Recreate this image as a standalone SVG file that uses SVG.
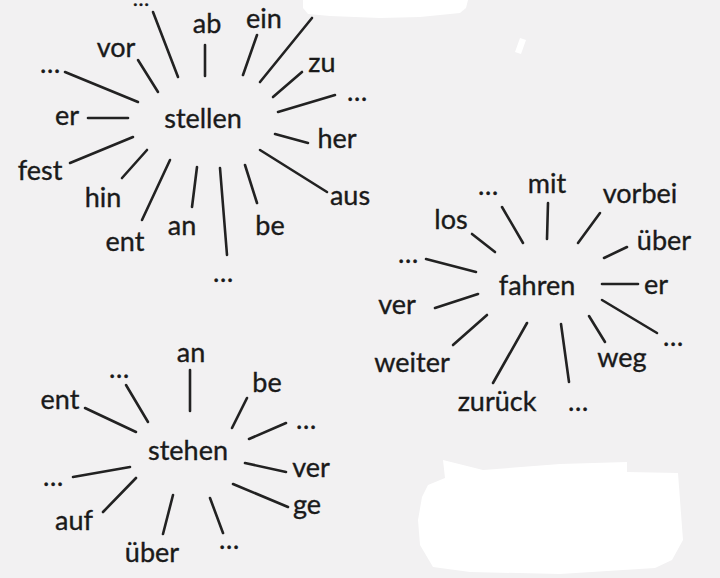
<svg xmlns="http://www.w3.org/2000/svg" width="720" height="578" viewBox="0 0 720 578">
<style>
.t{font-family:Lato,"Open Sans","Liberation Sans",sans-serif;font-size:27px;fill:#1a1a1a;stroke:#1a1a1a;stroke-width:0.35;text-anchor:middle}
.l line{stroke:#222;stroke-width:2.6;stroke-linecap:round}
.blob{fill:#ffffff}
</style>
<rect width="720" height="578" fill="#f2f1f2"/>
<path class="blob" d="M303 0 L468 0 L466 8 L460 13 L420 17 L380 18 L330 16 L308 14 L303 8 Z"/>
<path class="blob" d="M520 38 L526 40 L521 54 L515 52 Z"/>
<path class="blob" d="M443 460 L483 470 L560 464 L627 462 L627 472 L678 473 L680 500 L683 540 L672 560 L655 568 L560 574 L470 572 L433 567 L420 545 L418 520 L422 497 L428 485 L445 478 Z"/>
<g class="l" id="connectors">
<line x1="153" y1="12" x2="178" y2="77"/>
<line x1="205" y1="45" x2="205" y2="76"/>
<line x1="257" y1="35" x2="243" y2="75"/>
<line x1="312" y1="18" x2="260" y2="82"/>
<line x1="302" y1="72" x2="273" y2="97"/>
<line x1="335" y1="95" x2="278" y2="112"/>
<line x1="88" y1="118" x2="128" y2="118"/>
<line x1="65" y1="72" x2="138" y2="102"/>
<line x1="138" y1="60" x2="158" y2="92"/>
<line x1="275" y1="134" x2="308" y2="143"/>
<line x1="260" y1="150" x2="327" y2="192"/>
<line x1="70" y1="163" x2="133" y2="137"/>
<line x1="122" y1="178" x2="147" y2="150"/>
<line x1="142" y1="220" x2="170" y2="160"/>
<line x1="192" y1="207" x2="197" y2="167"/>
<line x1="220" y1="168" x2="227" y2="255"/>
<line x1="245" y1="165" x2="257" y2="203"/>
<line x1="502" y1="207" x2="523" y2="243"/>
<line x1="548" y1="203" x2="547" y2="239"/>
<line x1="600" y1="213" x2="578" y2="243"/>
<line x1="627" y1="247" x2="604" y2="258"/>
<line x1="472" y1="234" x2="495" y2="252"/>
<line x1="426" y1="259" x2="476" y2="272"/>
<line x1="602" y1="284" x2="638" y2="284"/>
<line x1="435" y1="308" x2="478" y2="294"/>
<line x1="453" y1="345" x2="487" y2="315"/>
<line x1="493" y1="383" x2="527" y2="323"/>
<line x1="561" y1="324" x2="569" y2="382"/>
<line x1="589" y1="316" x2="605" y2="342"/>
<line x1="602" y1="300" x2="657" y2="333"/>
<line x1="190" y1="370" x2="190" y2="411"/>
<line x1="126" y1="385" x2="148" y2="422"/>
<line x1="85" y1="408" x2="136" y2="432"/>
<line x1="247" y1="398" x2="232" y2="428"/>
<line x1="286" y1="423" x2="249" y2="439"/>
<line x1="245" y1="463" x2="286" y2="472"/>
<line x1="233" y1="484" x2="288" y2="507"/>
<line x1="73" y1="477" x2="130" y2="467"/>
<line x1="103" y1="512" x2="136" y2="478"/>
<line x1="163" y1="534" x2="173" y2="495"/>
<line x1="210" y1="498" x2="223" y2="533"/>
</g>
<g id="stellen" class="t">
<text x="203" y="128">stellen</text>
<text x="141" y="6" style="font-size:22px">…</text>
<text x="207" y="33">ab</text>
<text x="264" y="28">ein</text>
<text x="322" y="72">zu</text>
<text x="357" y="101">…</text>
<text x="67" y="125">er</text>
<text x="50" y="73">…</text>
<text x="116" y="57">vor</text>
<text x="337" y="148">her</text>
<text x="350" y="205">aus</text>
<text x="40" y="180">fest</text>
<text x="103" y="207">hin</text>
<text x="125" y="251">ent</text>
<text x="182" y="235">an</text>
<text x="223" y="282">…</text>
<text x="270" y="235">be</text>
</g>
<g id="fahren" class="t">
<text x="537" y="295">fahren</text>
<text x="488" y="195">…</text>
<text x="547" y="193">mit</text>
<text x="640" y="203">vorbei</text>
<text x="664" y="250">über</text>
<text x="451" y="229">los</text>
<text x="408" y="263">…</text>
<text x="656" y="294">er</text>
<text x="397" y="314">ver</text>
<text x="412" y="372">weiter</text>
<text x="497" y="411">zurück</text>
<text x="578" y="411">…</text>
<text x="622" y="367">weg</text>
<text x="673" y="346">…</text>
</g>
<g id="stehen" class="t">
<text x="188" y="460">stehen</text>
<text x="191" y="362">an</text>
<text x="119" y="378">…</text>
<text x="60" y="409">ent</text>
<text x="267" y="392">be</text>
<text x="306" y="429">…</text>
<text x="311" y="477">ver</text>
<text x="307" y="514">ge</text>
<text x="53" y="486">…</text>
<text x="74" y="530">auf</text>
<text x="152" y="562">über</text>
<text x="229" y="549">…</text>
</g>
</svg>
